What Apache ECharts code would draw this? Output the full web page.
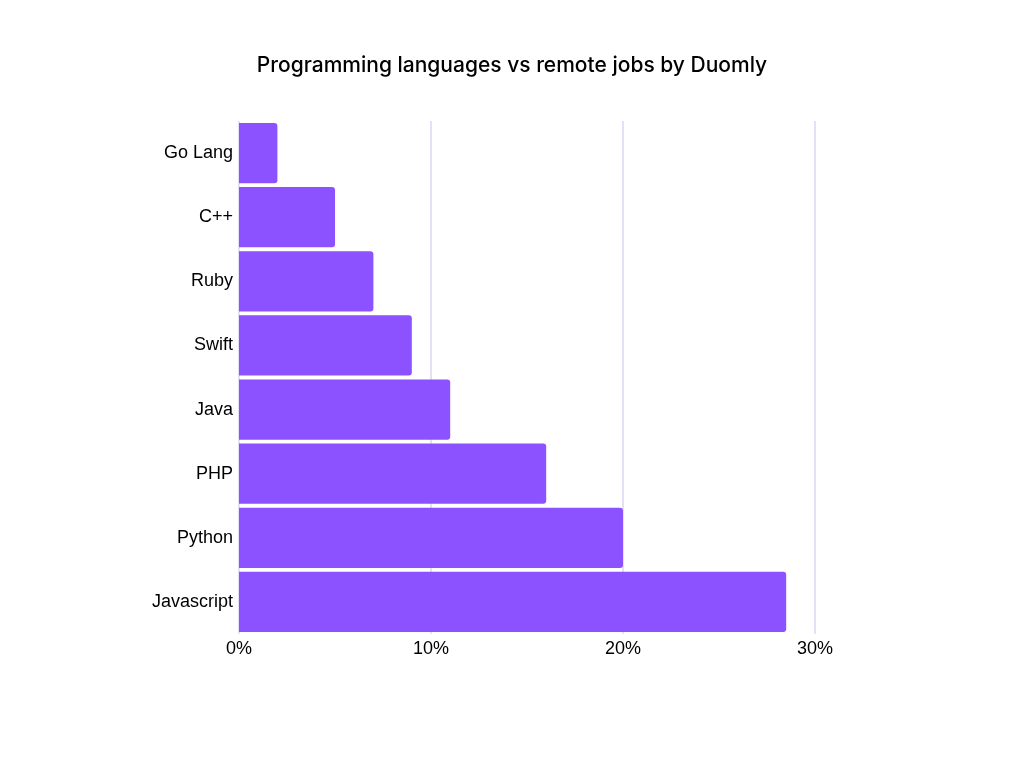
<!DOCTYPE html>
<html>
<head>
<meta charset="utf-8">
<script src="https://cdn.jsdelivr.net/npm/echarts@6/dist/echarts.min.js"></script>
<style>html,body{margin:0;background:#fff}#main{width:1024px;height:768px}</style>
</head>
<body>
<div id="main"></div>
<script>
var languages = ['Javascript', 'Python', 'PHP', 'Java', 'Swift', 'Ruby', 'C++', 'Go Lang'];
var shares = [28.5, 20, 16, 11, 9, 7, 5, 2];
var xTicks = [0, 10, 20, 30];

var myChart = echarts.init(document.getElementById('main'));
var option = {
    animation: false,
    title: {
        left: 'center',
        top: 50,
        text: 'Programming languages vs remote jobs by Duomly',
        textStyle: { color: '#000', fontSize: 21, fontWeight: 500, fontFamily: 'Inter' }
    },
    grid: { left: 239, right: 209, top: 121, bottom: 134, containLabel: false },
    xAxis: {
        type: 'value',
        min: xTicks[0],
        max: xTicks[xTicks.length - 1],
        interval: 10,
        axisLine: { show: false },
        axisTick: { show: false },
        splitLine: { show: true, lineStyle: { color: '#dcd6f2', width: 1.5 } },
        axisLabel: { formatter: '{value}%', color: '#000', fontSize: 18, fontFamily: 'Liberation Sans', margin: 6 }
    },
    yAxis: {
        type: 'category',
        data: languages,
        axisLine: { show: false },
        axisTick: { show: false },
        axisLabel: { color: '#000', fontSize: 18, fontFamily: 'Liberation Sans', margin: 6 }
    },
    series: [{
        type: 'bar',
        data: shares,
        barCategoryGap: '6%',
        itemStyle: { color: '#8c52ff', borderRadius: [0, 3, 3, 0] }
    }]
};
myChart.setOption(option);
</script>
</body>
</html>
